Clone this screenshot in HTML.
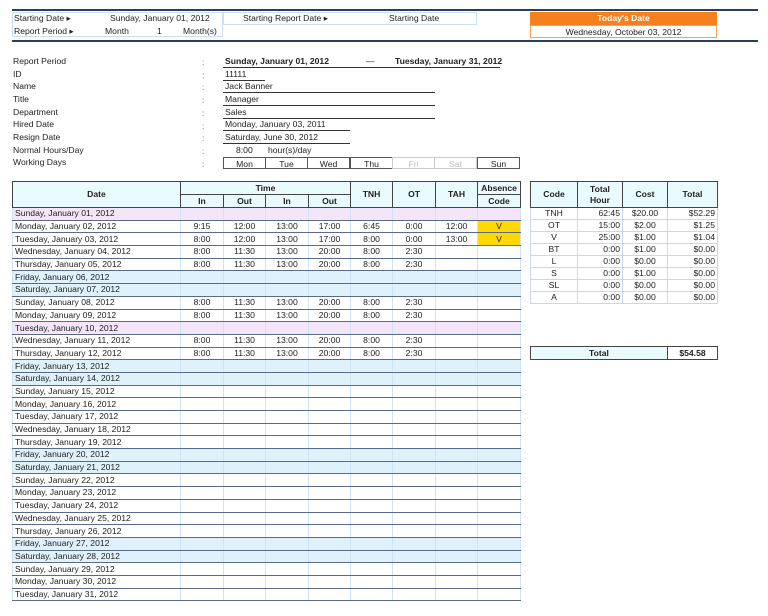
<!DOCTYPE html>
<html><head><meta charset="utf-8"><style>
body{margin:0;width:768px;height:616px;background:#fff;position:relative;font-family:"Liberation Sans",sans-serif;font-size:8.6px;color:#222;overflow:hidden}
.a{position:absolute;white-space:nowrap}
.hl{position:absolute;height:0;border-top:1px solid #333}
table{border-collapse:collapse;position:absolute;table-layout:fixed}
td{padding:0;height:11.7px;line-height:11px;text-align:center;border-left:1px solid #cfe3f3;border-right:1px solid #cfe3f3;border-bottom:1px solid #5a6a88;overflow:hidden;white-space:nowrap}
td.d{text-align:left;padding-left:2px}
.w td{background:#dff2fb}
.p td{background:#f4e6f8}
th{background:#eafbff;border:1px solid #444;font-weight:bold;padding:0;line-height:11px}
.y{background:#ffd800!important}
.s td{border-bottom:1px solid #c9d9ea;border-left:1px solid #c9d9ea;border-right:1px solid #c9d9ea;height:10.9px}
.r{text-align:right;padding-right:2px}
.wd{position:absolute;top:157px;height:12px;border:1px solid #555;text-align:center;line-height:12px;box-sizing:border-box;width:43px}
</style></head><body>
<div class="a" style="left:12px;top:9px;width:746px;height:2px;background:#2b3e5c"></div>
<div class="a" style="left:12px;top:40px;width:746px;height:2px;background:#2b3e5c"></div>
<div class="a" style="left:12px;top:12px;width:211px;height:25px;border:1px solid #cde0f0;box-sizing:border-box"></div>
<div class="a" style="left:223px;top:12px;width:254px;height:13px;border:1px solid #cde0f0;box-sizing:border-box"></div>
<div class="a" style="left:14px;top:13px">Starting Date ▸</div>
<div class="a" style="left:110px;top:13px">Sunday, January 01, 2012</div>
<div class="a" style="left:243px;top:13px">Starting Report Date ▸</div>
<div class="a" style="left:389px;top:13px">Starting Date</div>
<div class="a" style="left:14px;top:26px">Report Period ▸</div>
<div class="a" style="left:105px;top:26px">Month</div>
<div class="a" style="left:157px;top:26px">1</div>
<div class="a" style="left:183px;top:26px">Month(s)</div>
<div class="a" style="left:530px;top:12px;width:187px;height:13px;background:#f7801e;color:#fff;font-weight:bold;text-align:center;line-height:13px">Today's Date</div>
<div class="a" style="left:530px;top:25px;width:187px;height:13px;border:1px solid #f3a050;box-sizing:border-box;text-align:center;line-height:12px">Wednesday, October 03, 2012</div>

<div class="a" style="left:13px;top:56px">Report Period</div>
<div class="a" style="left:13px;top:69px">ID</div>
<div class="a" style="left:13px;top:81px">Name</div>
<div class="a" style="left:13px;top:94px">Title</div>
<div class="a" style="left:13px;top:107px">Department</div>
<div class="a" style="left:13px;top:119px">Hired Date</div>
<div class="a" style="left:13px;top:132px">Resign Date</div>
<div class="a" style="left:13px;top:145px">Normal Hours/Day</div>
<div class="a" style="left:13px;top:157px">Working Days</div>
<div class="a" style="left:202px;top:56px;color:#666;line-height:12.7px">:<br>:<br>:<br>:<br>:<br>:<br>:<br>:<br>:</div>
<div class="a" style="left:225px;top:56px;font-weight:bold">Sunday, January 01, 2012</div>
<div class="a" style="left:366px;top:56px">—</div>
<div class="a" style="left:395px;top:56px;font-weight:bold">Tuesday, January 31, 2012</div>
<div class="hl" style="left:223px;top:67px;width:277px"></div>
<div class="a" style="left:225px;top:69px">11111</div>
<div class="hl" style="left:223px;top:80px;width:42px"></div>
<div class="a" style="left:225px;top:81px">Jack Banner</div>
<div class="hl" style="left:223px;top:92px;width:212px"></div>
<div class="a" style="left:225px;top:94px">Manager</div>
<div class="hl" style="left:223px;top:105px;width:212px"></div>
<div class="a" style="left:225px;top:107px">Sales</div>
<div class="hl" style="left:223px;top:118px;width:212px"></div>
<div class="a" style="left:225px;top:119px">Monday, January 03, 2011</div>
<div class="hl" style="left:223px;top:130px;width:127px"></div>
<div class="a" style="left:225px;top:132px">Saturday, June 30, 2012</div>
<div class="hl" style="left:223px;top:143px;width:127px"></div>
<div class="a" style="left:236px;top:145px">8:00</div>
<div class="a" style="left:268px;top:145px">hour(s)/day</div>
<div class="wd" style="left:223px">Mon</div><div class="wd" style="left:265px">Tue</div><div class="wd" style="left:307px">Wed</div><div class="wd" style="left:350px">Thu</div>
<div class="wd" style="left:392px;border-color:#ccc;color:#bbb">Fri</div><div class="wd" style="left:434px;border-color:#ccc;color:#bbb">Sat</div><div class="wd" style="left:477px">Sun</div>

<table style="left:12px;top:181px;width:508px">
<colgroup><col style="width:168px"><col style="width:43px"><col style="width:42px"><col style="width:43px"><col style="width:42px"><col style="width:42px"><col style="width:43px"><col style="width:42px"><col style="width:43px"></colgroup>
<tr style="height:13px"><th rowspan="2">Date</th><th colspan="4">Time</th><th rowspan="2">TNH</th><th rowspan="2">OT</th><th rowspan="2">TAH</th><th>Absence</th></tr>
<tr style="height:13px"><th>In</th><th>Out</th><th>In</th><th>Out</th><th>Code</th></tr>
<tr class="p"><td class="d">Sunday, January 01, 2012</td><td></td><td></td><td></td><td></td><td></td><td></td><td></td><td></td></tr>
<tr><td class="d">Monday, January 02, 2012</td><td>9:15</td><td>12:00</td><td>13:00</td><td>17:00</td><td>6:45</td><td>0:00</td><td>12:00</td><td class="y">V</td></tr>
<tr><td class="d">Tuesday, January 03, 2012</td><td>8:00</td><td>12:00</td><td>13:00</td><td>17:00</td><td>8:00</td><td>0:00</td><td>13:00</td><td class="y">V</td></tr>
<tr><td class="d">Wednesday, January 04, 2012</td><td>8:00</td><td>11:30</td><td>13:00</td><td>20:00</td><td>8:00</td><td>2:30</td><td></td><td></td></tr>
<tr><td class="d">Thursday, January 05, 2012</td><td>8:00</td><td>11:30</td><td>13:00</td><td>20:00</td><td>8:00</td><td>2:30</td><td></td><td></td></tr>
<tr class="w"><td class="d">Friday, January 06, 2012</td><td></td><td></td><td></td><td></td><td></td><td></td><td></td><td></td></tr>
<tr class="w"><td class="d">Saturday, January 07, 2012</td><td></td><td></td><td></td><td></td><td></td><td></td><td></td><td></td></tr>
<tr><td class="d">Sunday, January 08, 2012</td><td>8:00</td><td>11:30</td><td>13:00</td><td>20:00</td><td>8:00</td><td>2:30</td><td></td><td></td></tr>
<tr><td class="d">Monday, January 09, 2012</td><td>8:00</td><td>11:30</td><td>13:00</td><td>20:00</td><td>8:00</td><td>2:30</td><td></td><td></td></tr>
<tr class="p"><td class="d">Tuesday, January 10, 2012</td><td></td><td></td><td></td><td></td><td></td><td></td><td></td><td></td></tr>
<tr><td class="d">Wednesday, January 11, 2012</td><td>8:00</td><td>11:30</td><td>13:00</td><td>20:00</td><td>8:00</td><td>2:30</td><td></td><td></td></tr>
<tr><td class="d">Thursday, January 12, 2012</td><td>8:00</td><td>11:30</td><td>13:00</td><td>20:00</td><td>8:00</td><td>2:30</td><td></td><td></td></tr>
<tr class="w"><td class="d">Friday, January 13, 2012</td><td></td><td></td><td></td><td></td><td></td><td></td><td></td><td></td></tr>
<tr class="w"><td class="d">Saturday, January 14, 2012</td><td></td><td></td><td></td><td></td><td></td><td></td><td></td><td></td></tr>
<tr><td class="d">Sunday, January 15, 2012</td><td></td><td></td><td></td><td></td><td></td><td></td><td></td><td></td></tr>
<tr><td class="d">Monday, January 16, 2012</td><td></td><td></td><td></td><td></td><td></td><td></td><td></td><td></td></tr>
<tr><td class="d">Tuesday, January 17, 2012</td><td></td><td></td><td></td><td></td><td></td><td></td><td></td><td></td></tr>
<tr><td class="d">Wednesday, January 18, 2012</td><td></td><td></td><td></td><td></td><td></td><td></td><td></td><td></td></tr>
<tr><td class="d">Thursday, January 19, 2012</td><td></td><td></td><td></td><td></td><td></td><td></td><td></td><td></td></tr>
<tr class="w"><td class="d">Friday, January 20, 2012</td><td></td><td></td><td></td><td></td><td></td><td></td><td></td><td></td></tr>
<tr class="w"><td class="d">Saturday, January 21, 2012</td><td></td><td></td><td></td><td></td><td></td><td></td><td></td><td></td></tr>
<tr><td class="d">Sunday, January 22, 2012</td><td></td><td></td><td></td><td></td><td></td><td></td><td></td><td></td></tr>
<tr><td class="d">Monday, January 23, 2012</td><td></td><td></td><td></td><td></td><td></td><td></td><td></td><td></td></tr>
<tr><td class="d">Tuesday, January 24, 2012</td><td></td><td></td><td></td><td></td><td></td><td></td><td></td><td></td></tr>
<tr><td class="d">Wednesday, January 25, 2012</td><td></td><td></td><td></td><td></td><td></td><td></td><td></td><td></td></tr>
<tr><td class="d">Thursday, January 26, 2012</td><td></td><td></td><td></td><td></td><td></td><td></td><td></td><td></td></tr>
<tr class="w"><td class="d">Friday, January 27, 2012</td><td></td><td></td><td></td><td></td><td></td><td></td><td></td><td></td></tr>
<tr class="w"><td class="d">Saturday, January 28, 2012</td><td></td><td></td><td></td><td></td><td></td><td></td><td></td><td></td></tr>
<tr><td class="d">Sunday, January 29, 2012</td><td></td><td></td><td></td><td></td><td></td><td></td><td></td><td></td></tr>
<tr><td class="d">Monday, January 30, 2012</td><td></td><td></td><td></td><td></td><td></td><td></td><td></td><td></td></tr>
<tr><td class="d">Tuesday, January 31, 2012</td><td></td><td></td><td></td><td></td><td></td><td></td><td></td><td></td></tr>
</table>

<table style="left:530px;top:181px;width:187px">
<colgroup><col style="width:47px"><col style="width:45px"><col style="width:45px"><col style="width:50px"></colgroup>
<tr style="height:26px"><th>Code</th><th>Total<br>Hour</th><th>Cost</th><th>Total</th></tr>
<tr class="s"><td>TNH</td><td class="r">62:45</td><td>$20.00</td><td class="r">$52.29</td></tr>
<tr class="s"><td>OT</td><td class="r">15:00</td><td>$2.00</td><td class="r">$1.25</td></tr>
<tr class="s"><td>V</td><td class="r">25:00</td><td>$1.00</td><td class="r">$1.04</td></tr>
<tr class="s"><td>BT</td><td class="r">0:00</td><td>$1.00</td><td class="r">$0.00</td></tr>
<tr class="s"><td>L</td><td class="r">0:00</td><td>$0.00</td><td class="r">$0.00</td></tr>
<tr class="s"><td>S</td><td class="r">0:00</td><td>$1.00</td><td class="r">$0.00</td></tr>
<tr class="s"><td>SL</td><td class="r">0:00</td><td>$0.00</td><td class="r">$0.00</td></tr>
<tr class="s"><td>A</td><td class="r">0:00</td><td>$0.00</td><td class="r">$0.00</td></tr>
</table>
<table style="left:530px;top:346px;width:187px">
<colgroup><col style="width:137px"><col style="width:50px"></colgroup>
<tr style="height:13px"><th>Total</th><th style="background:#fff">$54.58</th></tr>
</table>
</body></html>
